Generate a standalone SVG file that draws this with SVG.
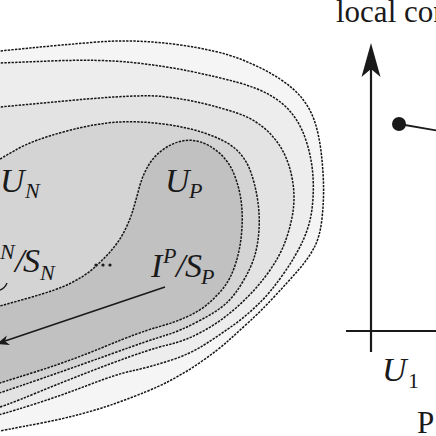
<svg xmlns="http://www.w3.org/2000/svg" width="436" height="436" viewBox="0 0 436 436">
<style>
.c{stroke:#151515;stroke-width:1.5;stroke-dasharray:2.4 1.2}
.t{font-family:"Liberation Serif","Times New Roman",serif;fill:#1a1a1a}
.m{font-style:italic;font-size:34px}
.s{font-size:22px}
.ax{stroke:#1a1a1a;stroke-width:2.2;fill:none}
</style>
<rect width="436" height="436" fill="#ffffff"/>
<g id="contours">
<path id="c1" class="c" fill="#f5f5f5" d="M-10,53 L0,51 L30,48 Q60,45 97.5,42 Q135,39 176.5,44.5 Q218,50 241.5,59.5 Q265,69 280,79 Q295,89 303,99.5 Q311,110 315,122.5 Q319,135 321,151 Q323,167 323.5,183.5 Q324,200 322,218.5 Q320,237 314,248 Q308,259 298,270.5 Q288,282 274.5,296.5 Q261,311 249.5,321.5 Q238,332 228,341 Q218,350 201.5,361.5 Q185,373 167.5,382 Q150,391 116.5,403 Q83,415 41.5,423 Q0,431 -10,433 Z"/>
<path id="c2" class="c" fill="#ededed" d="M-10,64 L0,63 L50,61 Q100,59 132.5,62.5 Q165,66 191.5,71.5 Q218,77 238,82.5 Q258,88 271.5,96 Q285,104 293.5,115.5 Q302,127 307,143.5 Q312,160 313,176.5 Q314,193 312,209 Q310,225 303,240.5 Q296,256 283,274.5 Q270,293 257.5,305 Q245,317 231.5,326.5 Q218,336 204,345 Q190,354 170,360.5 Q150,367 133.5,370.5 Q117,374 88.5,385 Q60,396 30,405.5 Q0,415 -10,417 Z"/>
<path id="c3" class="c" fill="#e3e3e3" d="M-10,108 L0,107 L70,100.5 Q140,94 162.5,96.5 Q185,99 203.5,103.5 Q222,108 237,113 Q252,118 263.5,127.5 Q275,137 282,149.5 Q289,162 292,177.5 Q295,193 293.5,207.5 Q292,222 286,239.5 Q280,257 266.5,275 Q253,293 236.5,307.5 Q220,322 202.5,331.5 Q185,341 167.5,345 Q150,349 112.5,363 Q75,377 37.5,392.5 Q0,408 -10,410 Z"/>
<path id="c4" class="c" fill="#d4d4d4" d="M-10,163 L0,159 L16.5,149.5 Q33,140 65,131.5 Q97,123 118.5,122 Q140,121 163.5,124 Q187,127 206,133.5 Q225,140 235,148.5 Q245,157 250,170 Q255,183 257.5,199 Q260,215 259,230 Q258,245 254.5,256.5 Q251,268 243,281.5 Q235,295 226.5,303 Q218,311 199,321 Q180,331 165,335.5 Q150,340 112.5,353.5 Q75,367 37.5,380 Q0,393 -10,396 Z"/>
<path id="c5" class="c" fill="#c1c1c1" d="M-10,309 L0,306 L28.5,298 Q57,290 71,283 Q85,276 95,267 Q105,258 112.5,249 Q120,240 125,230 Q130,220 133,210 Q136,200 139,188.5 Q142,177 147.5,167 Q153,157 162.5,150 Q172,143 182,141 Q192,139 202,142.5 Q212,146 221,154.5 Q230,163 235,176.5 Q240,190 241.5,204 Q243,218 241.5,234 Q240,250 235.5,264 Q231,278 224.5,286.5 Q218,295 209,303 Q200,311 186.5,317 Q173,323 156.5,327.5 Q140,332 105,346.5 Q70,361 35,372 Q0,383 -10,386 Z"/>
</g>
<g id="labels" class="t">
<text id="lbl-un" class="t m" x="0" y="192">U<tspan class="s" x="25" y="198">N</tspan></text>
<text id="lbl-up" class="t m" x="165" y="192">U<tspan class="s" x="189" y="198">P</tspan></text>
<text id="lbl-ip" class="t m" y="277"><tspan x="151">I</tspan><tspan class="s" x="163" y="263">P</tspan><tspan x="176" y="277">/</tspan><tspan x="185">S</tspan><tspan class="s" x="201" y="284">P</tspan></text>
<text id="lbl-in" class="t m" y="272"><tspan class="s" x="0" y="259">N</tspan><tspan x="15" y="272">/</tspan><tspan x="23">S</tspan><tspan class="s" x="40" y="280">N</tspan></text>
<g id="dots" fill="#1a1a1a"><circle cx="96" cy="265" r="1.6"/><circle cx="103" cy="265" r="1.6"/><circle cx="110" cy="265" r="1.6"/></g>
<text id="lbl-u1" class="t m" x="382" y="381">U<tspan class="s" style="font-style:normal" x="408" y="388">1</tspan></text>
<text id="lbl-local" class="t" x="336" y="22" font-size="31">local con</text>
<text id="lbl-p" class="t" x="417" y="433" font-size="31">P</text>
</g>
<g id="connectors">
<line x1="165" y1="287" x2="5" y2="341" stroke="#1a1a1a" stroke-width="1.7"/>
<path d="M-3,344 L10,345 L5,341.3 L6.8,335.4 Z" fill="#1a1a1a"/>
<path d="M0,290 Q5,288 7,283" stroke="#1a1a1a" stroke-width="1.4" fill="none"/>
<line class="ax" x1="371" y1="352" x2="371" y2="62"/>
<path d="M371,43 L380.5,77 L371,69 L361.5,77 Z" fill="#1a1a1a"/>
<line class="ax" x1="346" y1="331" x2="440" y2="331"/>
<circle cx="399" cy="124" r="7" fill="#1a1a1a"/>
<line x1="399" y1="124" x2="440" y2="131" stroke="#1a1a1a" stroke-width="1.8"/>
</g>
</svg>
